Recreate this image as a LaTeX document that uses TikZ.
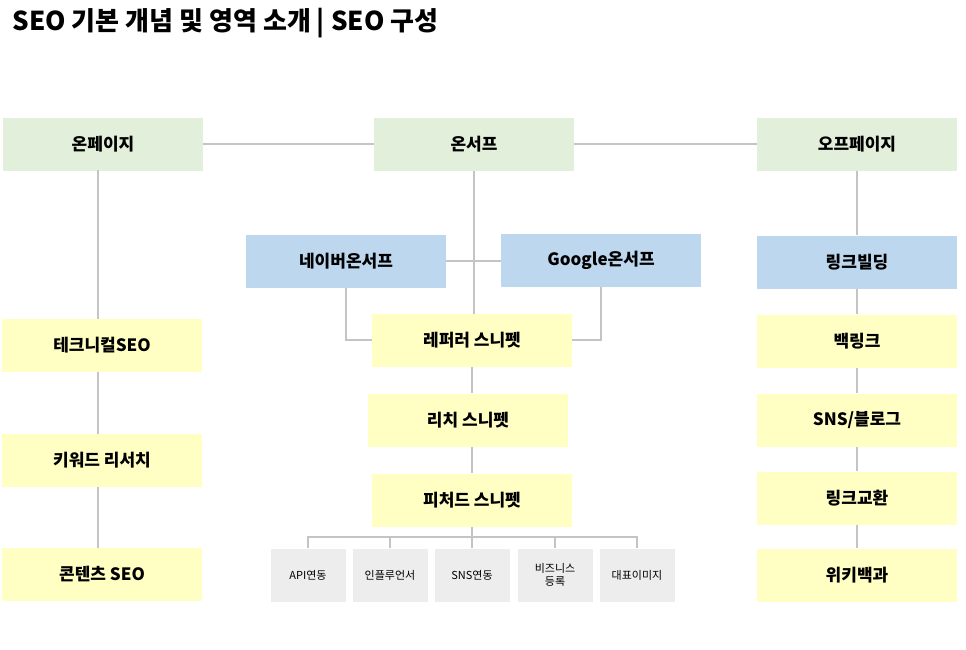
\documentclass[tikz,border=0pt]{standalone}
\usepackage{fontspec}
\setmainfont{Noto Sans CJK KR}
\definecolor{cgreen}{HTML}{E2EFDA}
\definecolor{cblue}{HTML}{BDD7EE}
\definecolor{cyel}{HTML}{FFFFC4}
\definecolor{cgray}{HTML}{EDEDED}
\definecolor{cline}{HTML}{C4C4C4}
\begin{document}
\begin{tikzpicture}[x=1pt,y=-1pt,
  box/.style={minimum width=200pt,minimum height=53pt,inner sep=0pt,font=\bfseries\fontsize{17}{19}\selectfont,text=black},
  gbox/.style={box,fill=cgreen},
  bbox/.style={box,fill=cblue},
  ybox/.style={box,fill=cyel},
  sbox/.style={minimum width=75pt,minimum height=53pt,inner sep=0pt,fill=cgray,font=\fontsize{11}{13}\selectfont,align=center},
  ln/.style={draw=cline,line width=2pt}]
\useasboundingbox (0,0) rectangle (966,649);
\node[anchor=west,font=\bfseries\fontsize{26}{28}\selectfont] (title) at (9,23) {SEO 기본 개념 및 영역 소개 | SEO 구성};
% top
\node[gbox] (on) at (103,144) {온페이지};
\node[gbox] (sf) at (474,144) {온서프};
\node[gbox] (off) at (857,144) {오프페이지};
% connectors first (behind)
\coordinate (lt) at (98,170);
\coordinate (lb0) at (98,548);
\draw[ln] (on.east) -- (sf.west);
\draw[ln] (sf.east) -- (off.west);
\draw[ln] (lt) -- (lb0);
\draw[ln] (sf.south) -- (474,314);
\draw[ln] (346,261) -- (601,261);
% left
\node[ybox] (tech) at (102,345) {테크니컬SEO};
\node[ybox] (kw) at (102,460) {키워드 리서치};
\node[ybox] (ct) at (102,574) {콘텐츠 SEO};
% center
\node[bbox] (nv) at (346,261) {네이버온서프};
\node[bbox] (gg) at (601,260) {Google온서프};
\node[ybox] (ref) at (472,340) {레퍼러 스니펫};
\node[ybox] (rich) at (468,420) {리치 스니펫};
\node[ybox] (feat) at (472,500) {피처드 스니펫};
\node[sbox] (s1) at (308,575) {API연동};
\node[sbox] (s2) at (390,575) {인플루언서};
\node[sbox] (s3) at (472,575) {SNS연동};
\node[sbox] (s4) at (555,575) {비즈니스\\등록};
\node[sbox] (s5) at (637,575) {대표이미지};
% right
\node[bbox] (lb) at (857,262) {링크빌딩};
\node[ybox] (bl) at (857,341) {백링크};
\node[ybox] (sns) at (857,420) {SNS/블로그};
\node[ybox] (lx) at (857,498) {링크교환};
\node[ybox] (wk) at (857,575) {위키백과};
\draw[ln] (nv.south) |- (ref.west);
\draw[ln] (gg.south) |- (ref.east);
\draw[ln] (ref.south) -- (rich.north -| ref.south);
\draw[ln] (rich.south -| feat.north) -- (feat.north);
\draw[ln] (feat.south) -- (472,537);
\draw[ln] (s1.north) -- (308,537) -- (637,537) -- (s5.north);
\foreach \s in {s2,s3,s4} \draw[ln] (\s.north) -- (\s.north |- 0,537);
\draw[ln] (off.south) -- (lb.north);
\draw[ln] (lb.south) -- (bl.north);
\draw[ln] (bl.south) -- (sns.north);
\draw[ln] (sns.south) -- (lx.north);
\draw[ln] (lx.south) -- (wk.north);
\end{tikzpicture}
\end{document}
